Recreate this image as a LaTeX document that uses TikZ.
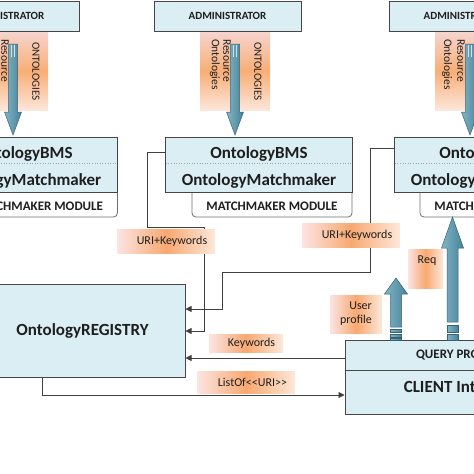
\documentclass[tikz,border=0pt]{standalone}
\usepackage{fontspec}
\setmainfont{Carlito}
\usetikzlibrary{arrows.meta}
\definecolor{boxfill}{RGB}{218,238,243}
\definecolor{boxline}{RGB}{70,70,70}
\definecolor{lineC}{RGB}{64,64,64}
\definecolor{txt}{RGB}{30,30,30}
\definecolor{orC}{RGB}{248,168,112}
\definecolor{paleC}{RGB}{252,228,226}
\definecolor{paleR}{RGB}{253,232,218}
\definecolor{gtop}{RGB}{246,212,206}
\definecolor{gmid}{RGB}{248,174,118}
\definecolor{gbot}{RGB}{252,230,218}
\definecolor{arL}{RGB}{130,180,198}
\definecolor{arD}{RGB}{70,130,152}
\definecolor{arE}{RGB}{55,98,116}
\definecolor{mmline}{RGB}{110,110,110}
\newcommand\fatdown[1]{%
  \shadedraw[fat] ({#1-4.5},44) -- ({#1-4.5},112) -- ({#1-8.5},112) -- (#1,135) -- ({#1+8.5},112) -- ({#1+4.5},112) -- ({#1+4.5},44) -- cycle;
  \draw[arL!40!white, line width=0.7pt] ({#1-1.5},44.5) -- ({#1-1.5},57) ({#1+1.5},44.5) -- ({#1+1.5},57);}
\newcommand\fatup[6]{%
  \shadedraw[fat] ({#1-#2},#6) -- ({#1-#2},#5) -- ({#1-#3},#5) -- (#1,#4) -- ({#1+#3},#5) -- ({#1+#2},#5) -- ({#1+#2},#6) -- cycle;}
\begin{document}
\begin{tikzpicture}[x=1pt,y=-1pt,
  adminbox/.style={draw=boxline, line width=1pt, fill=boxfill, inner sep=0pt, minimum width=147pt, minimum height=30pt, text=txt, font=\fontsize{11}{13}\selectfont\bfseries},
  bmsrow/.style={fill=boxfill, inner sep=0pt, minimum width=186pt, text=txt, font=\fontsize{17}{20}\selectfont\bfseries, text height=18pt, text depth=1.2pt},
  outline/.style={draw=boxline, line width=1pt},
  divider/.style={draw=gray!70, dotted, line width=0.6pt},
  mmbox/.style={draw=mmline, line width=0.8pt, fill=white, rounded corners=4pt, inner sep=0pt, minimum width=160pt, minimum height=31pt, text=txt, font=\fontsize{13}{15}\selectfont\bfseries, text height=18pt, text depth=0.6pt},
  regbox/.style={draw=boxline, line width=1pt, fill=boxfill, inner sep=0pt, text=txt, font=\fontsize{17}{20}\selectfont\bfseries},
  lbl/.style={inner sep=0pt, left color=paleC, right color=paleR, middle color=orC, text=txt, font=\fontsize{12}{14}\selectfont},
  conn/.style={draw=lineC, line width=0.9pt, -{Triangle[length=6pt,width=6pt]}},
  vtxt/.style={rotate=-90, anchor=west, inner sep=0pt, text=txt, font=\fontsize{11.5}{13}\selectfont},
  fat/.style={left color=arL, right color=arD, draw=arE, line width=0.5pt},
  gradv/.style={top color=gtop, bottom color=gbot, middle color=gmid}
]
\useasboundingbox (0,0) rectangle (474,474);
\clip (0,0) rectangle (474,474);
% ontology gradients
\shade[gradv] (-22,32) rectangle (48,110);
\shade[gradv] (200,32) rectangle (270,110);
\shade[gradv] (435,32) rectangle (505,110);
% administrators
\node[adminbox] (admL) at (5.5,16) {ADMINISTRATOR};
\node[adminbox] (admM) at (227.5,16) {ADMINISTRATOR};
\node[adminbox] (admR) at (462.5,16) {ADMINISTRATOR};
% fat arrows down
\fatdown{13}
\fatdown{235}
\fatdown{470}
% vertical texts
\node[vtxt] (onL) at (-7,39) {Ontologies};
\node[vtxt] (rsL) at (5,39) {Resource};
\node[vtxt, font=\fontsize{11}{13}\selectfont] (ONL) at (36,42) {ONTOLOGIES};
\node[vtxt] (onM) at (215,39) {Ontologies};
\node[vtxt] (rsM) at (227,39) {Resource};
\node[vtxt, font=\fontsize{11}{13}\selectfont] (ONM) at (258,42) {ONTOLOGIES};
\node[vtxt] (onR) at (447,39) {Ontologies};
\node[vtxt] (rsR) at (461,39) {Resource};
\node[vtxt, font=\fontsize{11}{13}\selectfont] (ONR) at (493,42) {ONTOLOGIES};
% matchmaker module boxes
\node[mmbox] (mmL) at (37.5,201.5) {MATCHMAKER MODULE};
\node[mmbox] (mmM) at (272,201.5) {MATCHMAKER MODULE};
\node[mmbox] (mmR) at (500,201.5) {MATCHMAKER MODULE};
% BMS blocks
\node[bmsrow, minimum height=25pt] (bmsTopL) at (24,150.5) {OntologyBMS};
\node[bmsrow, minimum height=29pt] (bmsBotL) at (24,177.5) {OntologyMatchmaker};
\draw[outline] (bmsTopL.north west) rectangle (bmsBotL.south east);
\draw[divider] (bmsTopL.south west) -- (bmsTopL.south east);
\node[bmsrow, minimum height=25pt] (bmsTopM) at (259,150.5) {OntologyBMS};
\node[bmsrow, minimum height=29pt] (bmsBotM) at (259,177.5) {OntologyMatchmaker};
\draw[outline] (bmsTopM.north west) rectangle (bmsBotM.south east);
\draw[divider] (bmsTopM.south west) -- (bmsTopM.south east);
\node[bmsrow, minimum height=25pt] (bmsTopR) at (488,150.5) {OntologyBMS};
\node[bmsrow, minimum height=29pt] (bmsBotR) at (488,177.5) {OntologyMatchmaker};
\draw[outline] (bmsTopR.north west) rectangle (bmsBotR.south east);
\draw[divider] (bmsTopR.south west) -- (bmsTopR.south east);
% registry
\node[regbox, minimum width=205pt, minimum height=93pt] (reg) at (82.5,330.5) {OntologyREGISTRY};
% client
\node[regbox, minimum width=255pt, minimum height=30pt, font=\fontsize{13}{15}\selectfont\bfseries] (qp) at (472.5,355) {QUERY PROCESSOR\hspace*{8pt}};
\node[regbox, minimum width=255pt, minimum height=44pt, text height=12pt, text depth=10.4pt] (ci) at (472.5,392) {CLIENT Interface\hspace*{22pt}};
% fat arrows up
\fatup{396}{5.5}{11.5}{278}{294}{327}
\shadedraw[fat] (390.5,329) rectangle (401.5,332);
\shadedraw[fat] (390.5,334) rectangle (401.5,337);
\shadedraw[fat] (390.5,338.5) rectangle (401.5,340);
\fatup{452.5}{5.5}{11}{217}{248}{322}
\shadedraw[fat] (447,325) rectangle (458,332);
\shadedraw[fat] (447,334) rectangle (458,340);
% connectors
\coordinate (c1a) at (370,272);
\coordinate (c1b) at (222,309);
\draw[conn] ([yshift=2pt]bmsTopR.west) -| (c1a) -| (c1b) -- (c1b -| reg.east);
\coordinate (c2a) at (147,227);
\coordinate (c2b) at (204,331);
\draw[conn] ([yshift=-1.5pt]bmsTopM.west) -| (c2a) -| (c2b) -- (c2b -| reg.east);
\draw[conn] ([yshift=-3pt]qp.west) -- ([yshift=-3pt]qp.west -| reg.east);
\coordinate (c4) at (42,395);
\draw[conn] (c4 |- reg.south) -- (c4) -- (c4 -| ci.west);
% labels
\node[lbl, minimum width=98pt, minimum height=24pt] (uk1) at (166,241) {\hspace*{12pt}URI+Keywords};
\node[lbl, minimum width=98pt, minimum height=24pt] (uk2) at (351,235) {\hspace*{12pt}URI+Keywords};
\node[lbl, minimum width=74pt, minimum height=18pt] (kw) at (246,343) {\hspace*{11pt}Keywords};
\node[lbl, minimum width=98pt, minimum height=22pt] (lo) at (246,382) {\hspace*{13pt}ListOf<{}<URI>{}>};
\node[lbl, minimum width=52pt, minimum height=38pt, align=right] (up) at (356,314) {User\\profile};
\node[lbl, minimum width=35pt, minimum height=39pt, text height=2pt, text depth=11.8pt] (rq) at (425.5,268.5) {\hspace*{3pt}Req};
\end{tikzpicture}
\end{document}
